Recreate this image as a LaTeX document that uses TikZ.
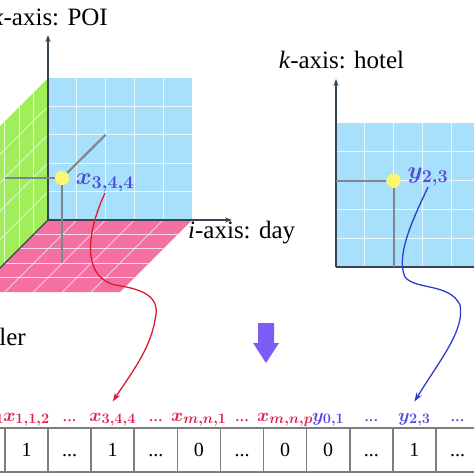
\RequirePackage{fix-cm}
\documentclass[tikz,border=0pt]{standalone}
\usepackage{fontspec}
\setmainfont{Liberation Serif}
\usetikzlibrary{arrows.meta}
\DeclareMathSizes{24}{24}{18}{14}
\DeclareMathSizes{18.5}{18.5}{14.5}{11}

\definecolor{facebl}{RGB}{166,224,250}
\definecolor{facegr}{RGB}{160,238,92}
\definecolor{facepk}{RGB}{244,112,162}
\definecolor{axisc}{RGB}{55,68,82}
\definecolor{projc}{RGB}{125,135,140}
\definecolor{dotc}{RGB}{250,246,112}
\definecolor{xred}{RGB}{224,30,75}
\definecolor{yblue}{RGB}{82,72,220}
\definecolor{curvered}{RGB}{220,25,55}
\definecolor{curveblue}{RGB}{45,60,205}
\definecolor{arrowvi}{RGB}{125,92,245}
\definecolor{cellc}{RGB}{125,125,125}

\tikzset{
  axis/.style={draw=axisc, line width=1.3pt, -{Stealth[length=7pt,width=5pt]}},
  gridline/.style={white, line width=0.7pt, opacity=0.75},
  proj/.style={projc, line width=2.2pt},
  dotnode/.style={circle, fill=dotc, minimum size=14pt, inner sep=0pt},
  axislabel/.style={font=\fontsize{25}{30}\selectfont, inner sep=0pt},
  ptlabel/.style={font=\fontsize{24}{28}\selectfont\boldmath, text=yblue, inner sep=1pt},
  veclabel/.style={font=\fontsize{18.5}{22}\selectfont\boldmath, anchor=base, inner sep=0pt},
  vcell/.style={draw=cellc, line width=1.6pt, minimum width=43.1pt, minimum height=44pt,
    text height=13pt, text depth=0pt, inner sep=0pt, font=\fontsize{20}{24}\selectfont},
  link/.style={line width=1.3pt, -{Stealth[length=9pt,width=6pt]}},
}

\begin{document}
\begin{tikzpicture}[x=1pt, y=-1pt]
	\useasboundingbox (0,0) rectangle (474,474);
	\clip (0,0) rectangle (474,474);

	% cube: x_{i,j,k}
	\coordinate (O) at (48,220);
	\fill[facegr] (48,78) -- (O) -- (-24,292) -- (-24,150) -- cycle;
	\fill[facepk] (O) -- (192,220) -- (120,292) -- (-24,292) -- cycle;
	\fill[facebl] (48,78) rectangle (192,220);
	\foreach \i in {1,...,4} {
		\draw[gridline] ({48+28.8*\i},78) -- ({48+28.8*\i},220);
		\draw[gridline] (48,{220-28.4*\i}) -- (192,{220-28.4*\i});
		\draw[gridline] ({48+28.8*\i},220) -- ({48+28.8*\i-72},292);
		\draw[gridline] ({48-14.4*\i},{220+14.4*\i}) -- ({192-14.4*\i},{220+14.4*\i});
		\draw[gridline] ({48-14.4*\i},{78+14.4*\i}) -- ({48-14.4*\i},{220+14.4*\i});
		\draw[gridline] (48,{220-28.4*\i}) -- (-24,{292-28.4*\i});
	}
	\coordinate (ktop) at (48,35);
	\coordinate (iend) at (232,220);
	\coordinate (jend) at (-40,308);
	\draw[axis] (O) -- (ktop);
	\draw[axis] (O) -- (iend);
	\draw[axis] (O) -- (jend);
	\node[axislabel, anchor=base east] (kpoi) at (108,25) {\textit{k}-axis: POI};
	\node[axislabel, anchor=base west] (iday) at (188,238) {\textit{i}-axis: day};
	\node[axislabel, anchor=base east] (jtrav) at (26,345) {\textit{j}-axis: traveler};

	\node[dotnode] (p344) at (62,178) {};
	\coordinate (p344i) at (4.8,178);
	\coordinate (p344j) at (105.6,134.8);
	\coordinate (p344k) at (62,263.2);
	\draw[proj] (p344) -- (p344i);
	\draw[proj] (p344) -- (p344j);
	\draw[proj] (p344) -- (p344k);
	\node[dotnode] at (p344) {};
	\node[ptlabel] (lx344) at (105,183) {$x_{3,4,4}$};

	% plane: y_{i,k}
	\coordinate (O2) at (336,267);
	\fill[facebl] (336,123) rectangle (481,267);
	\foreach \i in {1,...,4} {
		\draw[gridline] ({336+28.8*\i},123) -- ({336+28.8*\i},267);
		\draw[gridline] (336,{267-28.8*\i}) -- (481,{267-28.8*\i});
	}
	\coordinate (k2top) at (336,79);
	\coordinate (i2end) at (500,267);
	\draw[axis] (O2) -- (k2top);
	\draw[axis] (O2) -- (i2end);
	\node[axislabel, anchor=base] (khotel) at (341.5,68) {\textit{k}-axis: hotel};

	\node[dotnode] (p23) at (393.6,180.6) {};
	\coordinate (p23i) at (336,180.6);
	\coordinate (p23k) at (393.6,267);
	\draw[proj] (p23) -- (p23i);
	\draw[proj] (p23) -- (p23k);
	\node[dotnode] at (p23) {};
	\node[ptlabel] (ly23) at (428,177) {$y_{2,3}$};

	% flatten
	\fill[arrowvi] (258,323) -- (274,323) -- (274,343) -- (279,343) -- (266,363) -- (253,343) -- (258,343) -- cycle;

	% vector
	\node[vcell] (c0) at (-16.6,450) {};
	\node[vcell] (c1) at (26.5,450) {1};
	\node[vcell] (c2) at (69.6,450) {...};
	\node[vcell] (c3) at (112.7,450) {1};
	\node[vcell] (c4) at (155.8,450) {...};
	\node[vcell] (c5) at (198.9,450) {0};
	\node[vcell] (c6) at (242.0,450) {...};
	\node[vcell] (c7) at (285.1,450) {0};
	\node[vcell] (c8) at (328.2,450) {0};
	\node[vcell] (c9) at (371.3,450) {...};
	\node[vcell] (c10) at (414.4,450) {1};
	\node[vcell] (c11) at (457.5,450) {...};

	\node[veclabel, text=xred] (bx111) at (-19,421) {$x_{1,1,1}$};
	\node[veclabel, text=xred] (bx112) at (26.5,421) {$x_{1,1,2}$};
	\node[veclabel, text=xred] (bd1) at (69.6,421) {...};
	\node[veclabel, text=xred] (bx344) at (112.7,421) {$x_{3,4,4}$};
	\node[veclabel, text=xred] (bd2) at (155.8,421) {...};
	\node[veclabel, text=xred] (bxmn1) at (198.9,421) {$x_{m,n,1}$};
	\node[veclabel, text=xred] (bd3) at (242.0,421) {...};
	\node[veclabel, text=xred] (bxmnp) at (285.1,421) {$x_{m,n,p}$};
	\node[veclabel, text=yblue] (by01) at (328.2,421) {$y_{0,1}$};
	\node[veclabel, text=yblue] (bd4) at (371.3,421) {...};
	\node[veclabel, text=yblue] (by23) at (414.4,421) {$y_{2,3}$};
	\node[veclabel, text=yblue] (bd5) at (457.5,421) {...};

	\draw[link, curvered] (lx344.south) .. controls (90,225) and (78,275) .. (115,285)
		.. controls (150,290) and (160,300) .. (155,320)
		.. controls (150,350) and (130,375) .. ([yshift=11pt]bx344.north);
	\draw[link, curveblue] (ly23.south) .. controls (415,215) and (395,255) .. (405,277)
		.. controls (415,290) and (450,283) .. (460,305)
		.. controls (465,330) and (440,360) .. ([yshift=11pt]by23.north);
\end{tikzpicture}
\end{document}
